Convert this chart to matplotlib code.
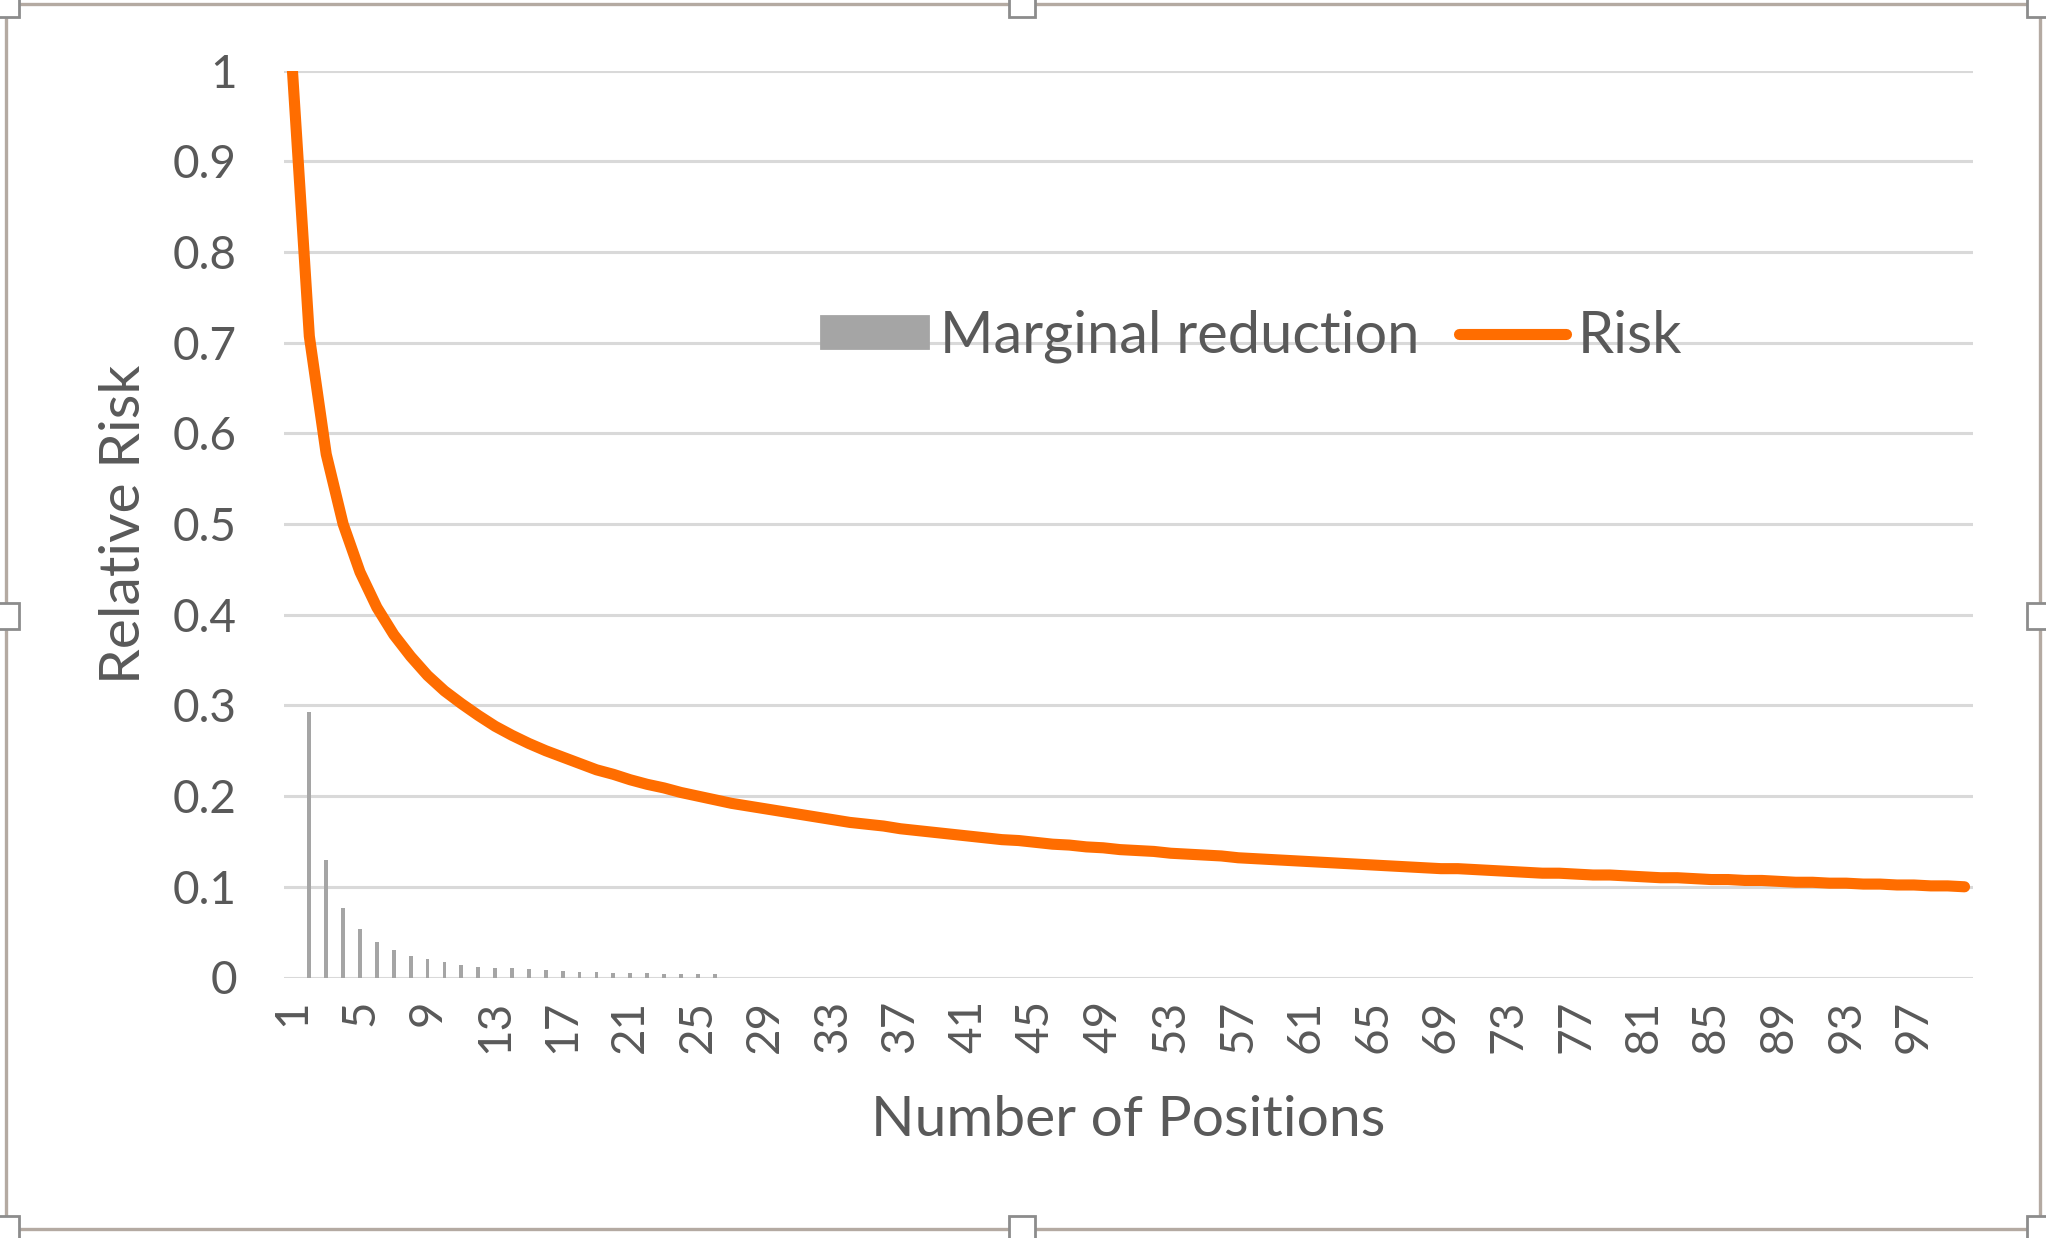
import matplotlib
matplotlib.use("Agg")
import matplotlib.pyplot as plt
from matplotlib.patches import Rectangle
from matplotlib.lines import Line2D

plt.rcParams['font.family'] = ['Lato', 'DejaVu Sans']

# Data
positions = list(range(1, 101))
risk = [1.000, 0.707, 0.577, 0.500, 0.447, 0.408, 0.378, 0.354, 0.333, 0.316,
        0.302, 0.289, 0.277, 0.267, 0.258, 0.250, 0.243, 0.236, 0.229, 0.224,
        0.218, 0.213, 0.209, 0.204, 0.200, 0.196, 0.192, 0.189, 0.186, 0.183,
        0.180, 0.177, 0.174, 0.171, 0.169, 0.167, 0.164, 0.162, 0.160, 0.158,
        0.156, 0.154, 0.152, 0.151, 0.149, 0.147, 0.146, 0.144, 0.143, 0.141,
        0.140, 0.139, 0.137, 0.136, 0.135, 0.134, 0.132, 0.131, 0.130, 0.129,
        0.128, 0.127, 0.126, 0.125, 0.124, 0.123, 0.122, 0.121, 0.120, 0.120,
        0.119, 0.118, 0.117, 0.116, 0.115, 0.115, 0.114, 0.113, 0.113, 0.112,
        0.111, 0.110, 0.110, 0.109, 0.108, 0.108, 0.107, 0.107, 0.106, 0.105,
        0.105, 0.104, 0.104, 0.103, 0.103, 0.102, 0.102, 0.101, 0.101, 0.100]
marginal_positions = list(range(2, 27))
marginal_reduction = [0.293, 0.130, 0.077, 0.053, 0.039, 0.030, 0.024, 0.020, 0.017,
                      0.014, 0.012, 0.011, 0.010, 0.009, 0.008, 0.007, 0.006, 0.006,
                      0.005, 0.005, 0.005, 0.004, 0.004, 0.004, 0.004]
xtick_labels = [str(v) for v in range(1, 101, 4)]
yticks = [0, 0.1, 0.2, 0.3, 0.4, 0.5, 0.6, 0.7, 0.8, 0.9, 1]
ytick_labels = ['0', '0.1', '0.2', '0.3', '0.4', '0.5', '0.6', '0.7', '0.8', '0.9', '1']

W, H, DPI = 2046, 1238, 200
fig = plt.figure(figsize=(W / DPI, H / DPI), dpi=DPI)
fig.patch.set_facecolor('white')

L, R, T, B = 284, 1973, 70.5, 977.5
ax = fig.add_axes([L / W, 1 - B / H, (R - L) / W, (B - T) / H])

text_color = '#595959'
grid_color = '#D9D9D9'

for y in yticks:
    ax.axhline(y, color=grid_color, lw=1.1, zorder=0)

ax.bar(marginal_positions, marginal_reduction, width=0.22, color='#A5A5A5',
       zorder=2, label='Marginal reduction')
ax.plot(positions, risk, color='#FF6D00', lw=4.0, solid_capstyle='round',
        solid_joinstyle='round', zorder=3, label='Risk')

ax.set_xlim(0.5, 100.5)
ax.set_ylim(0, 1)
for s in ax.spines.values():
    s.set_visible(False)

ax.set_xticks(list(range(1, 101, 4)))
ax.set_xticklabels(xtick_labels, rotation=90, ha='center', va='top')
ax.set_yticks(yticks)
ax.set_yticklabels(ytick_labels)
ax.tick_params(axis='both', length=0, colors=text_color, labelsize=16.5)
ax.tick_params(axis='x', pad=8)
ax.tick_params(axis='y', pad=17)

ax.set_xlabel('Number of Positions', fontsize=20.5, color=text_color, labelpad=15)
ax.set_ylabel('Relative Risk', fontsize=20.5, color=text_color, labelpad=8)

handles = [Rectangle((0, 0), 1, 1, color='#A5A5A5'),
           Line2D([0], [0], color='#FF6D00', lw=4.0, solid_capstyle='round')]
leg = ax.legend(handles, ['Marginal reduction', 'Risk'], ncol=2,
                loc='center', bbox_to_anchor=(0.573, 0.707), frameon=False,
                fontsize=20.8, handlelength=1.85, handleheight=0.5,
                handletextpad=0.2, columnspacing=0.7, labelcolor=text_color)

# Chart frame with selection handles
border = Rectangle((6 / W, 1 - 1229 / H), (2040 - 6) / W, (1229 - 4) / H,
                   transform=fig.transFigure, fill=False, edgecolor='#B4AAA2',
                   lw=1.2, zorder=10)
fig.patches.append(border)
hs = 26
for cx, cy in [(1022, 4), (1022, 1229), (6, 616), (2040, 616),
               (6, 4), (2040, 4), (6, 1229), (2040, 1229)]:
    fig.patches.append(Rectangle(((cx - hs / 2) / W, 1 - (cy + hs / 2) / H),
                                 hs / W, hs / H, transform=fig.transFigure,
                                 facecolor='white', edgecolor='#8C8C8C',
                                 lw=1.0, zorder=11))

fig.savefig('out.png', dpi=DPI, facecolor='white')
